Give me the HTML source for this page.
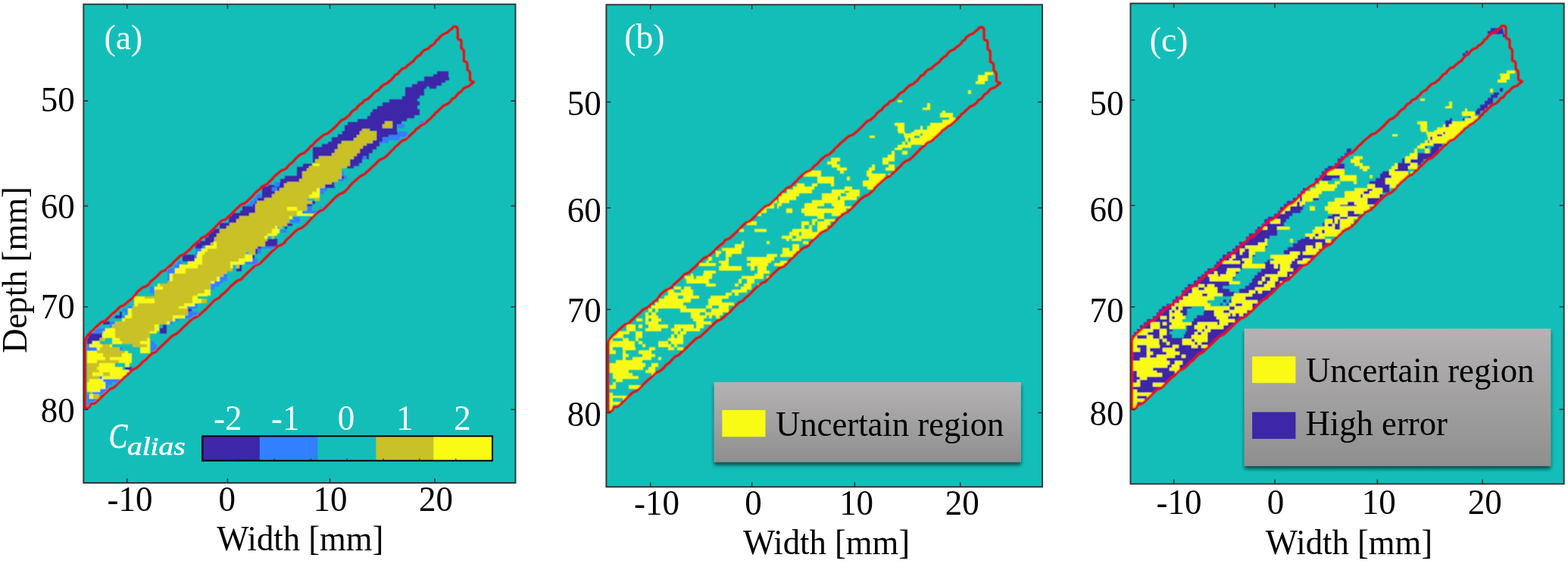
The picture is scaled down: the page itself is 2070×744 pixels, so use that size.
<!DOCTYPE html>
<html lang="en"><head><meta charset="utf-8"><title>Aliasing maps</title>
<style>
html,body{margin:0;padding:0;background:#fff;}
body{width:2070px;height:744px;overflow:hidden;}
svg{display:block;}
text{font-family:"Liberation Serif","DejaVu Serif",serif;}
.tk{font-size:48.3px;fill:#000;}
.ax{font-size:45.7px;fill:#000;}
.wt{font-size:46px;fill:#fff;}
.lg{font-size:45.7px;fill:#000;}
</style></head><body>
<svg width="2070" height="744" viewBox="0 0 2070 744">
<defs>
<linearGradient id="lgd" x1="0" y1="0" x2="0" y2="1"><stop offset="0" stop-color="#b5b2b4"/><stop offset="1" stop-color="#8f8f8f"/></linearGradient>
<filter id="sh" x="-5%" y="-10%" width="112%" height="125%"><feGaussianBlur in="SourceAlpha" stdDeviation="2.6"/><feOffset dx="0" dy="3.5"/><feComponentTransfer><feFuncA type="linear" slope="0.6"/></feComponentTransfer><feMerge><feMergeNode/><feMergeNode in="SourceGraphic"/></feMerge></filter>
<filter id="soft" filterUnits="userSpaceOnUse" x="0" y="0" width="2070" height="744"><feConvolveMatrix order="3" kernelMatrix="1 2 1 2 4 2 1 2 1" divisor="16" edgeMode="none" preserveAlpha="false"/></filter>
</defs>
<rect width="2070" height="744" fill="#fff"/>
<g id="panel-a">
<rect x="110.3" y="5.6" width="570.2" height="631.4" fill="#13beb9"/>
<clipPath id="clip-a"><polygon points="112.4,462.0 112.4,449.0 113.1,446.6 114.5,444.2 118.4,439.3 123.2,435.4 128.1,430.1 131.9,426.8 133.9,425.0 139.7,422.7 142.6,419.7 145.5,416.9 149.3,413.2 154.2,409.3 158.1,404.9 163.9,402.3 166.8,399.9 170.6,396.6 175.5,392.6 178.4,389.6 180.8,385.5 185.7,381.4 188.1,379.3 193.4,377.5 196.8,374.6 199.2,371.2 205.0,366.4 207.9,363.6 212.8,358.6 218.6,356.3 220.5,354.0 226.8,348.7 229.7,345.2 234.1,341.4 237.9,337.4 243.7,335.1 245.7,333.1 251.0,328.7 254.4,324.8 259.2,320.5 263.1,317.8 265.9,313.9 271.7,311.6 273.6,309.5 278.0,305.7 282.8,301.1 286.2,297.5 290.1,293.5 292.5,291.4 298.3,289.2 300.2,287.2 304.6,283.0 308.4,279.4 312.3,275.3 315.7,272.4 317.6,270.3 323.4,268.0 325.9,265.9 329.7,262.1 333.6,258.4 337.0,254.5 342.3,249.8 345.2,247.0 347.0,245.5 352.8,243.0 354.3,240.8 359.6,236.0 361.5,233.3 367.8,228.0 371.2,225.2 377.0,222.9 378.9,221.0 382.3,216.7 385.7,214.5 390.5,208.9 395.4,204.8 397.3,203.3 402.2,201.7 403.6,199.8 408.0,196.0 408.9,194.1 413.8,190.2 416.2,187.3 421.5,182.8 424.4,180.4 427.3,177.9 432.6,176.0 437.5,172.0 444.6,165.5 447.5,162.1 451.4,158.2 456.2,156.2 458.1,154.3 462.0,151.3 463.4,148.5 467.8,144.7 470.7,143.3 471.7,141.1 475.5,137.3 478.4,136.0 479.9,133.6 481.8,132.0 486.2,130.6 488.1,128.0 491.0,126.0 492.0,123.9 495.9,120.7 499.7,118.9 501.2,116.5 506.5,111.6 511.8,109.4 513.3,107.6 517.1,104.9 518.1,102.9 519.6,101.9 521.8,98.7 525.4,97.4 526.6,95.1 530.8,90.8 536.0,89.0 537.5,86.7 542.6,82.9 546.3,80.4 547.6,77.9 552.1,73.7 555.0,72.5 556.3,69.8 560.2,66.0 566.0,63.7 567.4,61.6 571.4,59.2 575.3,55.1 575.7,53.4 579.1,51.6 580.1,49.3 584.4,45.7 591.1,42.6 593.1,40.2 596.8,37.7 597.9,35.6 599.7,35.0 602.8,35.3 604.2,37.5 604.2,50.5 605.5,52.1 608.2,52.4 609.0,54.4 609.0,63.7 611.3,65.0 612.4,67.0 612.4,80.5 615.6,81.8 616.8,83.7 617.1,92.1 619.5,93.9 620.5,96.0 620.5,102.0 620.5,105.9 625.5,108.3 623.1,110.2 621.2,111.7 619.2,113.6 612.9,116.0 611.0,117.9 608.6,120.9 605.2,122.8 603.3,125.3 600.8,128.6 596.5,130.8 595.5,133.0 591.7,136.7 585.4,139.4 582.9,142.0 579.6,144.9 578.1,146.9 574.7,148.8 573.8,151.1 570.4,153.7 569.9,155.1 565.5,158.6 561.7,162.1 561.2,162.5 556.3,165.0 553.4,167.8 549.6,170.1 547.6,173.0 546.7,173.9 542.5,177.6 538.1,181.5 535.7,184.0 530.8,185.7 528.9,187.3 526.0,190.6 521.2,194.2 520.2,195.8 515.8,200.0 513.4,202.6 509.6,206.3 507.1,208.4 501.8,210.5 497.5,214.2 495.5,216.7 492.1,219.6 487.3,224.2 483.4,227.5 481.5,229.7 475.7,232.5 473.8,234.1 468.9,238.4 464.6,242.2 461.2,246.0 459.4,248.5 455.5,252.2 453.1,254.2 447.8,256.5 442.9,260.2 438.1,265.1 434.2,269.1 429.4,273.8 426.5,276.5 420.7,279.1 414.9,284.1 410.5,288.7 405.2,294.8 401.3,298.2 398.4,300.6 392.6,302.9 389.7,305.4 384.4,310.6 381.0,313.8 376.7,317.9 376.0,319.6 372.4,322.7 368.1,324.1 364.7,326.7 361.8,329.1 357.9,332.9 354.0,336.9 349.7,341.1 345.3,345.6 342.4,348.1 337.1,350.1 333.7,353.3 329.8,356.9 325.0,361.6 321.1,365.3 318.7,368.2 313.4,370.2 311.5,371.8 308.1,374.7 303.7,378.5 300.8,381.9 296.0,386.6 291.6,390.0 289.6,392.9 283.8,395.7 280.9,398.5 277.1,402.5 272.2,407.5 268.4,410.8 263.5,415.1 260.6,417.6 254.8,420.0 250.9,423.4 247.1,427.1 242.2,431.7 237.4,436.3 233.5,440.0 227.7,442.9 225.8,444.7 220.9,449.3 216.1,453.9 211.3,458.5 207.4,461.8 206.4,463.5 199.7,466.8 196.8,470.0 192.9,474.3 188.1,477.6 185.1,481.4 180.3,485.3 174.5,488.0 172.1,490.5 168.7,494.0 164.8,497.0 161.0,500.7 157.1,504.4 152.7,508.9 150.3,511.2 144.5,513.5 141.6,516.5 137.3,520.3 132.9,524.8 129.0,528.5 125.2,531.9 119.4,533.1 118.6,536.3 115.5,538.6 113.5,539.1 112.4,537.5 112.4,529.7 112.4,462.0"/></clipPath>
<g filter="url(#soft)">
<g clip-path="url(#clip-a)">
<path fill="#3e26a8" d="M577 94h15v8h-32v-1h12v-3h5v-4zM560 102h33v4h-5v3h-5v4h-7v4h-9v-3h-4v3h-3v9h-6v4h-3v4h3v5h-3v5h3v8h-7v4h-10v4h-7v4h-6v10h-73v-1h4v-8h4v-4h13v-4h13v-4h4v-5h3v-4h6v-4h7v-5h9v-4h17v-4h4v-12h9v-4h7v-4h9v-5z"/>
<path fill="#c9c128" d="M508 160h10v9h-13v-5h3v-4zM478 170h10v3h9v1h-22v-1h3v-3z"/>
<path fill="#3080ff" d="M525 164h9v5h-9v-5zM554 160h7v3h-7v-3zM525 173h12v1h-12v-1z"/>
<path fill="#c9c128" d="M475 174h22v11h-5v4h-8v3h-5v4h-4v6h-4v4h-4v4h-5v9h-4v3h-7v15h-5v3h-8v6h-63v-4h4v-2h16v-4h4v-10h6v-4h3v-3h4v-4h4v-5h5v-4h17v-4h4v-5h4v-7h5v-4h16v-4h4v-4h4v-4z"/>
<path fill="#3e26a8" d="M452 174h23v4h-4v4h-4v4h-16v4h-5v7h-4v5h-4v4h-17v4h-5v5h-3v-21h12v-4h8v-3h5v-6h8v-4h6v-3zM400 216h12v3h-4v3h-3v4h-6v10h-4v4h-16v2h-4v4h-9v-5h4v-5h6v-4h16v-12h8v-4zM354 244h8v2h-8v-2zM497 174h28v4h-12v3h-8v6h-4v6h-4v4h-5v5h-5v8h-9v5h-4v4h-7v3h-9v-3h4v-9h5v-4h4v-4h4v-6h4v-4h5v-3h8v-4h5v-11zM438 240h3v6h-12v-3h9v-3z"/>
<path fill="#3080ff" d="M525 174h13v4h-1v3h-9v4h-15v4h-12v-2h4v-6h8v-3h12v-4zM479 206h5v4h-5zM451 226h3v6h-3z"/>
<path fill="#3e26a8" d="M451 232h3v4h-3z"/>
<path fill="#3080ff" d="M454 232h4v4h-4zM446 236h8v3h-8zM362 240h7v6h-7z"/>
<path fill="#f9fb15" d="M413 216h9v3h-9z"/>
<path fill="#c9c128" d="M375 246h54v2h-7v17h-10v4h-7v9h-6v7h-13v4h-4v5h-3v4h-6v4h-4v6h-3v3h-4v4h-9v3h-70v-5h3v-5h4v-6h9v-4h4v-4h9v-5h4v-4h13v-4h8v-12h2v-4h10v-4h10v-5h4v-4h6v-4h6v-2z"/>
<path fill="#13beb9" d="M405 262h11v3h-11zM366 299h3v3h-3zM353 311h6v4h-6z"/>
<path fill="#f9fb15" d="M418 248h4v13h-14v-4h4v-4h6v-5zM379 273h13v5h-13zM392 278h7v4h16v3h-23v-7zM382 285h4v4h-4zM363 298h3v4h3v6h-3v3h-13v4h-4v-4h4v-3h6v-6h4v-4z"/>
<path fill="#3e26a8" d="M429 246h13v2h-13zM412 265h4v4h-4zM405 269h7v3h-7zM379 295h7v3h-7zM376 299h3v3h-3zM353 315h13v3h-13z"/>
<path fill="#3080ff" d="M422 248h10v4h-4v4h-6v-8zM405 272h7v6h-7zM400 278h18v3h-18zM422 273h4v2h-4zM387 286h9v8h-13v-4h4v-4zM370 303h9v4h-9z"/>
<path fill="#3e26a8" d="M346 246h29v2h-6v4h-6v4h-4v5h-10v4h-10v4h-2v12h-8v4h-13v4h-4v5h-9v4h-4v4h-9v6h-4v5h-3v5h-12v-5h4v-5h3v-6h12v-8h12v-9h4v-4h11v-3h3v-6h6v-3h4v-4h5v-4h3v-5h8v-10z"/>
<path fill="#3080ff" d="M338 256h8v5h-6v4h-3v4h-3v3h-8v-3h4v-4h5v-4h3v-5zM359 247h7v5h-7zM292 293h8v1h-8z"/>
<path fill="#c9c128" d="M282 318h68v7h-10v3h-3v8h-4v9h-10v4h-16v9h-7v3h-5v4h-5v6h-7v3h-5v16h-74v-12h4v-4h13v-3h3v-10h7v-7h6v-5h11v-4h9v-4h3v-5h1v-4h5v-4h5v-4h7v-4h4v-2zM312 349h4v5h-4z"/>
<path fill="#f9fb15" d="M282 319h4v9h-12v4h-4v4h-3v13h-6v5h-16v7h-14v-7h6v-5h11v-4h9v-4h3v-5h1v-4h5v-4h5v-4h11v-5zM224 361h4v10h-4zM208 374h3v4h4v4h-11v-4h4v-4zM323 336h10v9h-10v4h-16v5h-3v-9h11v-4h8v-5zM286 365h4v6h-4zM278 371h5v3h-5zM270 382h8v8h-17v-3h9v-5z"/>
<path fill="#3e26a8" d="M264 318h18v2h-4v4h-11v4h-9v-8h6v-2zM241 336h16v9h-16zM350 318h16v7h-16zM340 325h5v3h-5zM337 328h3v7h-3zM333 336h3v5h-3zM316 349h3v9h-7v-4h4v-5z"/>
<path fill="#3080ff" d="M267 324h3v4h-3zM258 328h8v4h-5v4h-1v5h-3v-5h1v-8zM234 345h7v4h-4v5h-6v7h-7v10h-3v-17h9v-5h4v-4zM198 378h6v9h-6zM346 325h17v3h-17zM340 328h5v7h-5zM333 341h7v4h-7zM324 345h18v4h-18zM295 361h5v10h-6v3h-4v4h-7v4h-5v-8h5v-3h7v-6h5v-4z"/>
<path fill="#13beb9" d="M324 332h5v3h-5zM307 349h5v5h-5z"/>
<path fill="#c9c128" d="M204 390h51v1h-51z"/>
<path fill="#f9fb15" d="M255 390h19v1h-19zM177 391h14v3h-14z"/>
<path fill="#c9c128" d="M191 391h63v3h-63z"/>
<path fill="#f9fb15" d="M254 391h7v3h-7zM177 394h27v6h-27z"/>
<path fill="#c9c128" d="M204 394h50v6h-50z"/>
<path fill="#f9fb15" d="M254 394h12v6h-12z"/>
<path fill="#c9c128" d="M266 394h7v6h-7z"/>
<path fill="#f9fb15" d="M177 400h5v4h-5z"/>
<path fill="#c9c128" d="M182 400h61v4h-61z"/>
<path fill="#f9fb15" d="M243 400h14v4h-14z"/>
<path fill="#3080ff" d="M258 400h3v4h-3zM169 404h5v3h-5z"/>
<path fill="#c9c128" d="M175 404h61v3h-61z"/>
<path fill="#f9fb15" d="M236 404h11v3h-11z"/>
<path fill="#3080ff" d="M248 404h13v3h-13zM162 407h6v4h-6z"/>
<path fill="#f9fb15" d="M169 407h5v4h-5z"/>
<path fill="#c9c128" d="M174 407h74v4h-74z"/>
<path fill="#3e26a8" d="M248 407h5v4h-5zM158 411h3v5h-3z"/>
<path fill="#3080ff" d="M165 411h3v5h-3z"/>
<path fill="#f9fb15" d="M169 411h5v5h-5z"/>
<path fill="#c9c128" d="M174 411h74v5h-74z"/>
<path fill="#3080ff" d="M248 411h13v5h-13zM149 416h3v4h-3z"/>
<path fill="#3e26a8" d="M152 416h9v4h-9z"/>
<path fill="#3080ff" d="M161 416h3v4h-3z"/>
<path fill="#f9fb15" d="M165 416h9v4h-9z"/>
<path fill="#c9c128" d="M174 416h54v4h-54z"/>
<path fill="#f9fb15" d="M228 416h16v4h-16z"/>
<path fill="#3080ff" d="M244 416h11v4h-11z"/>
<path fill="#f9fb15" d="M161 420h4v4h-4z"/>
<path fill="#c9c128" d="M165 420h63v4h-63z"/>
<path fill="#f9fb15" d="M228 420h3v4h-3z"/>
<path fill="#3080ff" d="M232 420h4v4h-4z"/>
<path fill="#3e26a8" d="M136 424h9v4h-9z"/>
<path fill="#3080ff" d="M145 424h7v4h-7z"/>
<path fill="#c9c128" d="M152 424h68v4h-68z"/>
<path fill="#f9fb15" d="M220 424h4v4h-4z"/>
<path fill="#3080ff" d="M224 424h4v4h-4zM145 428h3v5h-3z"/>
<path fill="#c9c128" d="M148 428h56v5h-56z"/>
<path fill="#f9fb15" d="M204 428h6v5h-6z"/>
<path fill="#3e26a8" d="M215 428h5v5h-5z"/>
<path fill="#3080ff" d="M126 433h13v4h-13z"/>
<path fill="#f9fb15" d="M139 433h13v4h-13z"/>
<path fill="#c9c128" d="M152 433h52v4h-52z"/>
<path fill="#f9fb15" d="M204 433h6v4h-6z"/>
<path fill="#3e26a8" d="M211 433h9v4h-9z"/>
<path fill="#3080ff" d="M122 437h13v3h-13z"/>
<path fill="#f9fb15" d="M136 437h16v3h-16z"/>
<path fill="#c9c128" d="M152 437h46v3h-46z"/>
<path fill="#f9fb15" d="M198 437h9v3h-9z"/>
<path fill="#3e26a8" d="M211 437h9v3h-9zM117 440h18v6h-18z"/>
<path fill="#f9fb15" d="M135 440h17v6h-17z"/>
<path fill="#c9c128" d="M152 440h46v6h-46z"/>
<path fill="#3e26a8" d="M115 446h16v4h-16z"/>
<path fill="#c9c128" d="M132 446h7v4h-7z"/>
<path fill="#f9fb15" d="M148 446h10v4h-10z"/>
<path fill="#c9c128" d="M158 446h36v4h-36z"/>
<path fill="#f9fb15" d="M194 446h4v4h-4z"/>
<path fill="#3e26a8" d="M115 450h7v4h-7z"/>
<path fill="#f9fb15" d="M122 450h10v4h-10zM148 450h13v4h-13z"/>
<path fill="#c9c128" d="M161 450h24v4h-24z"/>
<path fill="#f9fb15" d="M185 450h13v4h-13z"/>
<path fill="#3080ff" d="M199 450h5v4h-5zM115 454h3v4h-3z"/>
<path fill="#f9fb15" d="M118 454h17v4h-17z"/>
<path fill="#c9c128" d="M135 454h10v4h-10z"/>
<path fill="#f9fb15" d="M145 454h3v4h-3z"/>
<path fill="#c9c128" d="M175 454h19v4h-19z"/>
<path fill="#f9fb15" d="M194 454h4v4h-4z"/>
<path fill="#3080ff" d="M199 454h8v4h-8zM115 458h13v4h-13z"/>
<path fill="#f9fb15" d="M128 458h4v4h-4z"/>
<path fill="#c9c128" d="M132 458h26v4h-26z"/>
<path fill="#3080ff" d="M158 458h3v4h-3z"/>
<path fill="#f9fb15" d="M185 458h13v4h-13z"/>
<path fill="#3080ff" d="M199 458h8v4h-8zM115 462h13v1h-13z"/>
<path fill="#c9c128" d="M129 462h29v1h-29z"/>
<path fill="#3080ff" d="M158 462h3v1h-3z"/>
<path fill="#f9fb15" d="M185 462h13v1h-13z"/>
<path fill="#3080ff" d="M199 462h6v1h-6z"/>
<path fill="#f9fb15" d="M115 463h13v3h-13z"/>
<path fill="#c9c128" d="M128 463h37v3h-37z"/>
<path fill="#f9fb15" d="M165 463h4v3h-4zM185 463h13v3h-13zM115 466h21v5h-21z"/>
<path fill="#c9c128" d="M136 466h25v5h-25z"/>
<path fill="#f9fb15" d="M161 466h13v5h-13zM115 471h24v4h-24z"/>
<path fill="#c9c128" d="M139 471h6v4h-6z"/>
<path fill="#f9fb15" d="M145 471h29v4h-29zM115 475h13v4h-13z"/>
<path fill="#c9c128" d="M128 475h29v4h-29z"/>
<path fill="#f9fb15" d="M157 475h17v4h-17z"/>
<path fill="#c9c128" d="M115 479h16v5h-16z"/>
<path fill="#f9fb15" d="M131 479h21v5h-21zM165 479h6v5h-6z"/>
<path fill="#c9c128" d="M115 484h13v4h-13z"/>
<path fill="#f9fb15" d="M128 484h34v4h-34z"/>
<path fill="#3e26a8" d="M165 484h9v4h-9z"/>
<path fill="#c9c128" d="M115 488h16v3h-16z"/>
<path fill="#f9fb15" d="M131 488h39v3h-39z"/>
<path fill="#3080ff" d="M170 488h2v3h-2z"/>
<path fill="#c9c128" d="M115 491h7v5h-7z"/>
<path fill="#f9fb15" d="M122 491h14v5h-14z"/>
<path fill="#c9c128" d="M136 491h9v5h-9z"/>
<path fill="#f9fb15" d="M145 491h22v5h-22z"/>
<path fill="#c9c128" d="M115 496h16v4h-16z"/>
<path fill="#3080ff" d="M131 496h4v4h-4z"/>
<path fill="#f9fb15" d="M135 496h27v4h-27z"/>
<path fill="#c9c128" d="M115 500h3v4h-3z"/>
<path fill="#f9fb15" d="M118 500h18v4h-18z"/>
<path fill="#3080ff" d="M136 500h23v4h-23z"/>
<path fill="#f9fb15" d="M115 504h24v4h-24z"/>
<path fill="#3080ff" d="M139 504h9v4h-9zM152 504h3v4h-3z"/>
<path fill="#f9fb15" d="M115 508h24v5h-24z"/>
<path fill="#3080ff" d="M139 508h4v5h-4z"/>
<path fill="#f9fb15" d="M115 513h17v4h-17z"/>
<path fill="#3080ff" d="M132 513h9v4h-9z"/>
<path fill="#c9c128" d="M119 517h3v3h-3z"/>
<path fill="#3080ff" d="M122 517h16v3h-16zM115 520h3v6h-3z"/>
<path fill="#f9fb15" d="M118 520h5v6h-5z"/>
<path fill="#c9c128" d="M123 520h8v6h-8z"/>
<path fill="#3080ff" d="M115 526h12v4h-12zM115 530h3v4h-3zM115 534h2v3h-2z"/>
</g>
<polygon fill="none" stroke="#ff0000" stroke-width="3.1" stroke-linejoin="round" points="112.4,462.0 112.4,449.0 113.1,446.6 114.5,444.2 118.4,439.3 123.2,435.4 128.1,430.1 131.9,426.8 133.9,425.0 139.7,422.7 142.6,419.7 145.5,416.9 149.3,413.2 154.2,409.3 158.1,404.9 163.9,402.3 166.8,399.9 170.6,396.6 175.5,392.6 178.4,389.6 180.8,385.5 185.7,381.4 188.1,379.3 193.4,377.5 196.8,374.6 199.2,371.2 205.0,366.4 207.9,363.6 212.8,358.6 218.6,356.3 220.5,354.0 226.8,348.7 229.7,345.2 234.1,341.4 237.9,337.4 243.7,335.1 245.7,333.1 251.0,328.7 254.4,324.8 259.2,320.5 263.1,317.8 265.9,313.9 271.7,311.6 273.6,309.5 278.0,305.7 282.8,301.1 286.2,297.5 290.1,293.5 292.5,291.4 298.3,289.2 300.2,287.2 304.6,283.0 308.4,279.4 312.3,275.3 315.7,272.4 317.6,270.3 323.4,268.0 325.9,265.9 329.7,262.1 333.6,258.4 337.0,254.5 342.3,249.8 345.2,247.0 347.0,245.5 352.8,243.0 354.3,240.8 359.6,236.0 361.5,233.3 367.8,228.0 371.2,225.2 377.0,222.9 378.9,221.0 382.3,216.7 385.7,214.5 390.5,208.9 395.4,204.8 397.3,203.3 402.2,201.7 403.6,199.8 408.0,196.0 408.9,194.1 413.8,190.2 416.2,187.3 421.5,182.8 424.4,180.4 427.3,177.9 432.6,176.0 437.5,172.0 444.6,165.5 447.5,162.1 451.4,158.2 456.2,156.2 458.1,154.3 462.0,151.3 463.4,148.5 467.8,144.7 470.7,143.3 471.7,141.1 475.5,137.3 478.4,136.0 479.9,133.6 481.8,132.0 486.2,130.6 488.1,128.0 491.0,126.0 492.0,123.9 495.9,120.7 499.7,118.9 501.2,116.5 506.5,111.6 511.8,109.4 513.3,107.6 517.1,104.9 518.1,102.9 519.6,101.9 521.8,98.7 525.4,97.4 526.6,95.1 530.8,90.8 536.0,89.0 537.5,86.7 542.6,82.9 546.3,80.4 547.6,77.9 552.1,73.7 555.0,72.5 556.3,69.8 560.2,66.0 566.0,63.7 567.4,61.6 571.4,59.2 575.3,55.1 575.7,53.4 579.1,51.6 580.1,49.3 584.4,45.7 591.1,42.6 593.1,40.2 596.8,37.7 597.9,35.6 599.7,35.0 602.8,35.3 604.2,37.5 604.2,50.5 605.5,52.1 608.2,52.4 609.0,54.4 609.0,63.7 611.3,65.0 612.4,67.0 612.4,80.5 615.6,81.8 616.8,83.7 617.1,92.1 619.5,93.9 620.5,96.0 620.5,102.0 620.5,105.9 625.5,108.3 623.1,110.2 621.2,111.7 619.2,113.6 612.9,116.0 611.0,117.9 608.6,120.9 605.2,122.8 603.3,125.3 600.8,128.6 596.5,130.8 595.5,133.0 591.7,136.7 585.4,139.4 582.9,142.0 579.6,144.9 578.1,146.9 574.7,148.8 573.8,151.1 570.4,153.7 569.9,155.1 565.5,158.6 561.7,162.1 561.2,162.5 556.3,165.0 553.4,167.8 549.6,170.1 547.6,173.0 546.7,173.9 542.5,177.6 538.1,181.5 535.7,184.0 530.8,185.7 528.9,187.3 526.0,190.6 521.2,194.2 520.2,195.8 515.8,200.0 513.4,202.6 509.6,206.3 507.1,208.4 501.8,210.5 497.5,214.2 495.5,216.7 492.1,219.6 487.3,224.2 483.4,227.5 481.5,229.7 475.7,232.5 473.8,234.1 468.9,238.4 464.6,242.2 461.2,246.0 459.4,248.5 455.5,252.2 453.1,254.2 447.8,256.5 442.9,260.2 438.1,265.1 434.2,269.1 429.4,273.8 426.5,276.5 420.7,279.1 414.9,284.1 410.5,288.7 405.2,294.8 401.3,298.2 398.4,300.6 392.6,302.9 389.7,305.4 384.4,310.6 381.0,313.8 376.7,317.9 376.0,319.6 372.4,322.7 368.1,324.1 364.7,326.7 361.8,329.1 357.9,332.9 354.0,336.9 349.7,341.1 345.3,345.6 342.4,348.1 337.1,350.1 333.7,353.3 329.8,356.9 325.0,361.6 321.1,365.3 318.7,368.2 313.4,370.2 311.5,371.8 308.1,374.7 303.7,378.5 300.8,381.9 296.0,386.6 291.6,390.0 289.6,392.9 283.8,395.7 280.9,398.5 277.1,402.5 272.2,407.5 268.4,410.8 263.5,415.1 260.6,417.6 254.8,420.0 250.9,423.4 247.1,427.1 242.2,431.7 237.4,436.3 233.5,440.0 227.7,442.9 225.8,444.7 220.9,449.3 216.1,453.9 211.3,458.5 207.4,461.8 206.4,463.5 199.7,466.8 196.8,470.0 192.9,474.3 188.1,477.6 185.1,481.4 180.3,485.3 174.5,488.0 172.1,490.5 168.7,494.0 164.8,497.0 161.0,500.7 157.1,504.4 152.7,508.9 150.3,511.2 144.5,513.5 141.6,516.5 137.3,520.3 132.9,524.8 129.0,528.5 125.2,531.9 119.4,533.1 118.6,536.3 115.5,538.6 113.5,539.1 112.4,537.5 112.4,529.7 112.4,462.0"/>
</g>
<path d="M167.7 637.0v-6M167.7 5.6v6M300.4 637.0v-6M300.4 5.6v6M435.5 637.0v-6M435.5 5.6v6M573.9 637.0v-6M573.9 5.6v6M110.3 133.1h6M680.5 133.1h-6M110.3 271.6h6M680.5 271.6h-6M110.3 404.8h6M680.5 404.8h-6M110.3 540.3h6M680.5 540.3h-6" stroke="#333333" stroke-width="1.6" fill="none"/>
<rect x="110.3" y="5.6" width="570.2" height="631.4" fill="none" stroke="#333333" stroke-width="1.9"/>
</g>
<g id="panel-b">
<rect x="800.4" y="6.2" width="575.6" height="636.1" fill="#13beb9"/>
<clipPath id="clip-b"><polygon points="802.5,466.0 802.5,452.9 803.2,450.5 804.7,448.0 808.6,443.2 813.4,439.2 818.3,433.9 822.2,430.5 824.2,428.7 830.0,426.4 833.0,423.4 835.9,420.6 839.8,416.9 844.7,412.9 848.6,408.5 854.5,405.9 857.4,403.4 861.3,400.2 866.2,396.0 869.1,393.1 871.6,388.9 876.5,384.8 878.9,382.7 884.3,380.8 887.7,377.9 890.2,374.6 896.0,369.7 899.0,366.9 903.8,361.8 909.7,359.5 911.7,357.2 918.0,351.8 920.9,348.4 925.3,344.5 929.2,340.5 935.1,338.1 937.0,336.1 942.4,331.7 945.8,327.8 950.7,323.5 954.6,320.8 957.4,316.7 963.3,314.4 965.3,312.4 969.7,308.5 974.5,303.9 978.0,300.3 981.9,296.2 984.3,294.2 990.2,291.9 992.1,289.9 996.5,285.7 1000.4,282.0 1004.3,277.9 1007.7,275.0 1009.7,272.8 1015.6,270.5 1018.0,268.5 1021.9,264.6 1025.8,260.9 1029.2,257.0 1034.6,252.2 1037.5,249.4 1039.3,247.9 1045.2,245.4 1046.7,243.1 1052.0,238.3 1054.0,235.6 1060.3,230.3 1063.8,227.4 1069.6,225.1 1071.6,223.2 1075.0,218.9 1078.4,216.7 1083.3,211.0 1088.2,206.9 1090.1,205.4 1095.0,203.8 1096.5,201.9 1100.9,198.0 1101.9,196.1 1106.7,192.1 1109.2,189.2 1114.6,184.7 1117.5,182.3 1120.4,179.8 1125.8,177.9 1130.7,173.8 1137.8,167.3 1140.8,163.8 1144.7,160.0 1149.6,157.9 1151.5,156.0 1155.4,153.0 1156.9,150.2 1161.3,146.4 1164.2,145.0 1165.2,142.7 1169.1,138.9 1172.0,137.5 1173.5,135.2 1175.4,133.5 1179.8,132.1 1181.8,129.5 1184.7,127.5 1185.7,125.3 1189.6,122.2 1193.5,120.4 1195.0,118.0 1200.4,113.0 1205.7,110.7 1207.2,109.0 1211.1,106.2 1212.1,104.2 1213.5,103.2 1215.8,99.9 1219.4,98.7 1220.7,96.3 1224.9,92.0 1230.1,90.2 1231.7,87.9 1236.8,84.1 1240.5,81.5 1241.8,79.0 1246.3,74.8 1249.3,73.6 1250.6,70.9 1254.5,67.1 1260.4,64.8 1261.9,62.6 1265.9,60.2 1269.8,56.1 1270.2,54.4 1273.7,52.6 1274.7,50.2 1279.0,46.6 1285.8,43.4 1287.8,41.1 1291.5,38.6 1292.6,36.4 1294.4,35.9 1297.5,36.1 1299.0,38.4 1299.0,51.4 1300.3,53.0 1303.0,53.4 1303.9,55.3 1303.9,64.7 1306.1,66.1 1307.3,68.0 1307.3,81.7 1310.5,82.9 1311.7,84.9 1312.0,93.4 1314.4,95.1 1315.4,97.3 1315.4,103.3 1315.4,107.2 1320.5,109.7 1318.1,111.6 1316.1,113.1 1314.1,115.0 1307.8,117.4 1305.8,119.4 1303.4,122.4 1300.0,124.3 1298.0,126.8 1295.6,130.1 1291.2,132.3 1290.2,134.6 1286.3,138.2 1280.0,141.0 1277.5,143.6 1274.1,146.5 1272.6,148.6 1269.2,150.5 1268.2,152.8 1264.8,155.4 1264.3,156.8 1259.9,160.4 1256.0,163.9 1255.5,164.3 1250.7,166.8 1247.7,169.6 1243.8,172.0 1241.9,174.8 1240.9,175.7 1236.6,179.5 1232.2,183.4 1229.8,185.9 1224.9,187.6 1223.0,189.2 1220.0,192.6 1215.2,196.2 1214.2,197.9 1209.8,202.0 1207.3,204.7 1203.4,208.4 1201.0,210.5 1195.6,212.6 1191.2,216.3 1189.3,218.8 1185.9,221.8 1181.0,226.4 1177.1,229.8 1175.1,232.0 1169.2,234.7 1167.3,236.4 1162.4,240.7 1158.0,244.5 1154.6,248.4 1152.8,250.9 1148.9,254.6 1146.4,256.7 1141.1,259.0 1136.2,262.7 1131.3,267.6 1127.4,271.7 1122.5,276.4 1119.6,279.1 1113.7,281.8 1107.9,286.7 1103.5,291.4 1098.1,297.6 1094.2,300.9 1091.3,303.4 1085.4,305.8 1082.5,308.2 1077.1,313.5 1073.7,316.7 1069.3,320.9 1068.6,322.6 1065.0,325.6 1060.6,327.0 1057.2,329.6 1054.3,332.1 1050.4,335.9 1046.4,340.0 1042.0,344.2 1037.7,348.7 1034.7,351.3 1029.4,353.2 1025.9,356.4 1022.0,360.2 1017.1,364.8 1013.2,368.5 1010.8,371.5 1005.4,373.5 1003.5,375.1 1000.0,378.0 995.7,381.9 992.7,385.3 987.8,390.0 983.4,393.4 981.4,396.4 975.6,399.2 972.7,402.0 968.7,406.0 963.9,411.0 960.0,414.4 955.1,418.7 952.1,421.2 946.3,423.7 942.4,427.1 938.5,430.8 933.6,435.5 928.7,440.1 924.8,443.8 918.9,446.7 917.0,448.5 912.1,453.2 907.2,457.8 902.3,462.5 898.4,465.8 897.4,467.5 890.6,470.9 887.7,474.0 883.8,478.4 878.9,481.7 876.0,485.5 871.1,489.5 865.2,492.2 862.8,494.7 859.4,498.3 855.4,501.3 851.5,505.0 847.6,508.7 843.2,513.3 840.8,515.5 834.9,517.9 832.0,520.9 827.6,524.8 823.2,529.3 819.3,533.0 815.4,536.4 809.5,537.6 808.8,540.9 805.6,543.2 803.7,543.7 802.5,542.0 802.5,534.2 802.5,466.0"/></clipPath>
<g filter="url(#soft)">
<g>
<path fill="#f9fb15" d="M1300 95h11v4h-11zM1291 99h13v8h-13zM1288 107h12v4h-12zM1278 119h4v5h-4zM1185 132h6v3h-6zM1224 136h4v6h-4zM1218 142h10v3h-10zM1244 146h4v3h-4zM1241 149h17v6h-17zM1253 155h8v3h-8zM1244 158h16v3h-16zM1244 161h15v1h-15zM1228 162h29v2h-29zM1228 164h28v1h-28zM1181 162h13v4h-13zM1228 165h26v1h-26zM1224 166h27v1h-27zM1224 167h26v1h-26zM1224 168h25v1h-25zM1224 169h24v1h-24zM1215 166h3v5h-3zM1224 170h22v1h-22zM1207 171h37v2h-37zM1185 166h9v8h-9zM1207 173h36v1h-36zM1186 174h9v2h-9zM1203 174h36v2h-36zM1218 176h21v2h-21zM1193 176h22v3h-22zM1218 178h20v1h-20zM1214 179h22v2h-22zM1148 179h7v3h-7zM1194 179h13v3h-13zM1214 181h21v1h-21zM1202 182h30v2h-30zM1202 184h29v1h-29zM1202 185h28v1h-28zM1195 182h4v5h-4zM1202 186h26v1h-26zM1198 187h24v4h-24zM1191 187h4v4h-4zM1185 191h18v4h-18zM1181 195h10v3h-10zM1191 199h7v5h-7zM1177 199h4v5h-4zM1172 204h9v4h-9zM1097 208h12v5h-12zM1165 208h16v5h-16zM1092 213h13v4h-13zM1165 213h8v4h-8zM1151 217h4v4h-4zM1098 217h11v4h-11zM1173 217h8v4h-8zM1169 221h12v4h-12zM1105 221h13v4h-13zM1147 221h8v4h-8zM1068 225h16v1h-16zM1144 225h7v4h-7zM1109 225h5v4h-5zM1066 226h18v3h-18zM1173 229h3v3h-3zM1144 229h25v4h-25zM1061 229h23v4h-23zM1173 232h1v1h-1zM1147 233h20v4h-20zM1118 233h4v5h-4zM1147 237h19v1h-19zM1139 238h25v2h-25zM1139 240h24v1h-24zM1079 233h22v9h-22zM1139 241h23v1h-23zM1139 242h19v3h-19zM1052 242h10v4h-10zM1072 242h7v4h-7zM1097 242h4v4h-4zM1139 245h18v1h-18zM1145 246h8v4h-8zM1047 246h28v4h-28zM1115 246h10v4h-10zM1098 250h37v2h-37zM1121 252h14v2h-14zM1098 252h17v2h-17zM1039 250h33v5h-33zM1098 254h37v1h-37zM1117 255h18v4h-18zM1032 255h23v4h-23zM1085 255h25v4h-25zM1028 259h23v5h-23zM1109 259h22v5h-22zM1085 259h21v5h-21zM1022 264h4v1h-4zM1028 264h14v4h-14zM1072 264h43v4h-43zM1021 265h5v3h-5zM1018 268h4v1h-4zM1017 269h5v1h-5zM1026 268h6v4h-6zM1062 268h26v4h-26zM1098 268h17v4h-17zM1016 270h6v2h-6zM1011 272h11v3h-11zM1101 272h23v3h-23zM1026 272h2v3h-2zM1062 272h17v3h-17zM1007 275h5v1h-5zM1006 276h6v1h-6zM1038 275h8v6h-8zM1058 275h59v6h-59zM1005 277h7v4h-7zM1001 281h4v1h-4zM1062 281h26v4h-26zM1098 281h12v4h-12zM1000 282h5v3h-5zM1079 285h9v4h-9zM1088 289h14v3h-14zM1072 289h7v3h-7zM988 292h11v1h-11zM1072 292h4v5h-4zM1058 292h10v5h-10zM1079 292h17v5h-17zM986 293h13v4h-13zM1058 297h4v5h-4zM1079 297h13v5h-13zM1068 297h4v5h-4zM1079 302h9v3h-9zM996 302h16v4h-16zM1046 302h26v4h-26zM976 302h6v4h-6zM1079 305h7v1h-7zM1058 306h23v4h-23zM1042 306h13v5h-13zM1058 310h22v1h-22zM1051 311h26v3h-26zM1032 311h14v4h-14zM1051 314h25v1h-25zM1038 315h4v3h-4zM1045 315h13v3h-13zM1012 318h4v4h-4zM1060 318h7v4h-7zM979 318h3v4h-3zM970 322h12v5h-12zM1046 322h9v9h-9zM1033 327h9v4h-9zM953 327h26v4h-26zM945 331h7v4h-7zM958 331h21v4h-21zM1033 331h18v4h-18zM958 335h8v4h-8zM1030 335h17v4h-17zM945 335h4v4h-4zM1012 335h14v4h-14zM935 339h5v5h-5zM958 339h4v5h-4zM986 339h36v5h-36zM949 344h13v3h-13zM932 344h4v3h-4zM991 344h27v3h-27zM1030 344h9v3h-9zM1022 347h13v4h-13zM986 347h28v4h-28zM952 347h10v4h-10zM923 347h22v4h-22zM1000 351h12v6h-12zM949 351h30v6h-30zM991 351h5v6h-5zM1000 357h16v4h-16zM929 357h16v4h-16zM912 361h3v3h-3zM928 361h12v3h-12zM996 361h12v3h-12zM1012 364h4v3h-4zM979 364h29v4h-29zM919 364h21v4h-21zM904 364h12v4h-12zM1012 367h2v1h-2zM975 368h4v6h-4zM986 368h10v6h-10zM906 368h30v6h-30zM1000 374h2v3h-2zM982 374h10v4h-10zM970 374h5v4h-5zM932 374h13v4h-13zM1000 377h1v1h-1zM978 378h14v4h-14zM903 378h9v4h-9zM890 378h9v4h-9zM899 382h16v4h-16zM882 382h8v4h-8zM966 382h20v4h-20zM882 386h33v4h-33zM958 386h8v4h-8zM970 386h5v4h-5zM877 390h18v4h-18zM902 390h21v4h-21zM938 390h24v4h-24zM870 394h42v5h-42zM935 394h18v5h-18zM935 399h34v4h-34zM865 399h37v4h-37zM932 403h8v4h-8zM949 403h13v4h-13zM860 403h46v4h-46zM865 407h4v5h-4zM856 407h5v5h-5zM898 407h34v5h-34zM939 407h23v5h-23zM931 412h23v4h-23zM860 412h6v4h-6zM912 412h12v4h-12zM852 412h4v4h-4zM852 416h17v4h-17zM912 416h21v4h-21zM945 416h5v4h-5zM936 416h4v4h-4zM915 420h14v4h-14zM840 420h8v4h-8zM860 420h13v4h-13zM852 420h4v4h-4zM852 424h17v4h-17zM919 424h20v4h-20zM919 428h10v5h-10zM843 428h5v5h-5zM890 428h26v5h-26zM856 428h26v5h-26zM827 428h12v9h-12zM902 433h22v4h-22zM886 433h13v4h-13zM852 433h21v4h-21zM815 437h16v1h-16zM898 437h8v4h-8zM890 437h5v4h-5zM814 438h17v3h-17zM810 441h13v1h-13zM839 437h9v9h-9zM894 441h8v5h-8zM886 441h4v5h-4zM809 442h14v4h-14zM806 446h3v1h-3zM822 446h8v4h-8zM839 446h4v4h-4zM882 446h20v4h-20zM805 447h4v3h-4zM843 450h5v4h-5zM886 450h16v4h-16zM869 450h13v4h-13zM805 450h33v8h-33zM890 454h4v4h-4zM869 454h17v4h-17zM848 454h4v4h-4zM822 458h17v4h-17zM857 458h8v4h-8zM805 458h4v4h-4zM894 458h8v4h-8zM882 458h8v4h-8zM843 462h17v5h-17zM822 462h4v5h-4zM805 462h8v5h-8zM848 467h17v4h-17zM822 467h8v4h-8zM869 471h4v4h-4zM835 471h25v4h-25zM822 471h4v4h-4zM813 475h35v4h-35zM860 479h9v5h-9zM805 479h47v5h-47zM805 484h44v4h-44zM856 484h9v4h-9zM852 488h13v4h-13zM805 488h25v4h-25zM860 492h4v2h-4zM860 494h3v1h-3zM809 492h26v4h-26zM860 495h2v1h-2zM809 496h34v4h-34zM813 500h9v4h-9zM809 504h4v4h-4zM830 508h17v2h-17zM830 510h16v1h-16zM830 511h15v1h-15zM805 508h8v5h-8zM830 512h14v1h-14zM805 518h4v4h-4zM805 522h24v2h-24zM805 524h23v1h-23zM822 525h3v3h-3zM822 528h2v1h-2zM805 525h4v5h-4zM822 529h1v1h-1zM805 530h14v4h-14zM805 534h4v7h-4z"/>
</g>
<polygon fill="none" stroke="#ff0000" stroke-width="3.1" stroke-linejoin="round" points="802.5,466.0 802.5,452.9 803.2,450.5 804.7,448.0 808.6,443.2 813.4,439.2 818.3,433.9 822.2,430.5 824.2,428.7 830.0,426.4 833.0,423.4 835.9,420.6 839.8,416.9 844.7,412.9 848.6,408.5 854.5,405.9 857.4,403.4 861.3,400.2 866.2,396.0 869.1,393.1 871.6,388.9 876.5,384.8 878.9,382.7 884.3,380.8 887.7,377.9 890.2,374.6 896.0,369.7 899.0,366.9 903.8,361.8 909.7,359.5 911.7,357.2 918.0,351.8 920.9,348.4 925.3,344.5 929.2,340.5 935.1,338.1 937.0,336.1 942.4,331.7 945.8,327.8 950.7,323.5 954.6,320.8 957.4,316.7 963.3,314.4 965.3,312.4 969.7,308.5 974.5,303.9 978.0,300.3 981.9,296.2 984.3,294.2 990.2,291.9 992.1,289.9 996.5,285.7 1000.4,282.0 1004.3,277.9 1007.7,275.0 1009.7,272.8 1015.6,270.5 1018.0,268.5 1021.9,264.6 1025.8,260.9 1029.2,257.0 1034.6,252.2 1037.5,249.4 1039.3,247.9 1045.2,245.4 1046.7,243.1 1052.0,238.3 1054.0,235.6 1060.3,230.3 1063.8,227.4 1069.6,225.1 1071.6,223.2 1075.0,218.9 1078.4,216.7 1083.3,211.0 1088.2,206.9 1090.1,205.4 1095.0,203.8 1096.5,201.9 1100.9,198.0 1101.9,196.1 1106.7,192.1 1109.2,189.2 1114.6,184.7 1117.5,182.3 1120.4,179.8 1125.8,177.9 1130.7,173.8 1137.8,167.3 1140.8,163.8 1144.7,160.0 1149.6,157.9 1151.5,156.0 1155.4,153.0 1156.9,150.2 1161.3,146.4 1164.2,145.0 1165.2,142.7 1169.1,138.9 1172.0,137.5 1173.5,135.2 1175.4,133.5 1179.8,132.1 1181.8,129.5 1184.7,127.5 1185.7,125.3 1189.6,122.2 1193.5,120.4 1195.0,118.0 1200.4,113.0 1205.7,110.7 1207.2,109.0 1211.1,106.2 1212.1,104.2 1213.5,103.2 1215.8,99.9 1219.4,98.7 1220.7,96.3 1224.9,92.0 1230.1,90.2 1231.7,87.9 1236.8,84.1 1240.5,81.5 1241.8,79.0 1246.3,74.8 1249.3,73.6 1250.6,70.9 1254.5,67.1 1260.4,64.8 1261.9,62.6 1265.9,60.2 1269.8,56.1 1270.2,54.4 1273.7,52.6 1274.7,50.2 1279.0,46.6 1285.8,43.4 1287.8,41.1 1291.5,38.6 1292.6,36.4 1294.4,35.9 1297.5,36.1 1299.0,38.4 1299.0,51.4 1300.3,53.0 1303.0,53.4 1303.9,55.3 1303.9,64.7 1306.1,66.1 1307.3,68.0 1307.3,81.7 1310.5,82.9 1311.7,84.9 1312.0,93.4 1314.4,95.1 1315.4,97.3 1315.4,103.3 1315.4,107.2 1320.5,109.7 1318.1,111.6 1316.1,113.1 1314.1,115.0 1307.8,117.4 1305.8,119.4 1303.4,122.4 1300.0,124.3 1298.0,126.8 1295.6,130.1 1291.2,132.3 1290.2,134.6 1286.3,138.2 1280.0,141.0 1277.5,143.6 1274.1,146.5 1272.6,148.6 1269.2,150.5 1268.2,152.8 1264.8,155.4 1264.3,156.8 1259.9,160.4 1256.0,163.9 1255.5,164.3 1250.7,166.8 1247.7,169.6 1243.8,172.0 1241.9,174.8 1240.9,175.7 1236.6,179.5 1232.2,183.4 1229.8,185.9 1224.9,187.6 1223.0,189.2 1220.0,192.6 1215.2,196.2 1214.2,197.9 1209.8,202.0 1207.3,204.7 1203.4,208.4 1201.0,210.5 1195.6,212.6 1191.2,216.3 1189.3,218.8 1185.9,221.8 1181.0,226.4 1177.1,229.8 1175.1,232.0 1169.2,234.7 1167.3,236.4 1162.4,240.7 1158.0,244.5 1154.6,248.4 1152.8,250.9 1148.9,254.6 1146.4,256.7 1141.1,259.0 1136.2,262.7 1131.3,267.6 1127.4,271.7 1122.5,276.4 1119.6,279.1 1113.7,281.8 1107.9,286.7 1103.5,291.4 1098.1,297.6 1094.2,300.9 1091.3,303.4 1085.4,305.8 1082.5,308.2 1077.1,313.5 1073.7,316.7 1069.3,320.9 1068.6,322.6 1065.0,325.6 1060.6,327.0 1057.2,329.6 1054.3,332.1 1050.4,335.9 1046.4,340.0 1042.0,344.2 1037.7,348.7 1034.7,351.3 1029.4,353.2 1025.9,356.4 1022.0,360.2 1017.1,364.8 1013.2,368.5 1010.8,371.5 1005.4,373.5 1003.5,375.1 1000.0,378.0 995.7,381.9 992.7,385.3 987.8,390.0 983.4,393.4 981.4,396.4 975.6,399.2 972.7,402.0 968.7,406.0 963.9,411.0 960.0,414.4 955.1,418.7 952.1,421.2 946.3,423.7 942.4,427.1 938.5,430.8 933.6,435.5 928.7,440.1 924.8,443.8 918.9,446.7 917.0,448.5 912.1,453.2 907.2,457.8 902.3,462.5 898.4,465.8 897.4,467.5 890.6,470.9 887.7,474.0 883.8,478.4 878.9,481.7 876.0,485.5 871.1,489.5 865.2,492.2 862.8,494.7 859.4,498.3 855.4,501.3 851.5,505.0 847.6,508.7 843.2,513.3 840.8,515.5 834.9,517.9 832.0,520.9 827.6,524.8 823.2,529.3 819.3,533.0 815.4,536.4 809.5,537.6 808.8,540.9 805.6,543.2 803.7,543.7 802.5,542.0 802.5,534.2 802.5,466.0"/>
</g>
<path d="M858.7 642.3v-6M858.7 6.2v6M992.6 642.3v-6M992.6 6.2v6M1128.3 642.3v-6M1128.3 6.2v6M1267.8 642.3v-6M1267.8 6.2v6M800.4 134.5h6M1376.0 134.5h-6M800.4 274.2h6M1376.0 274.2h-6M800.4 408.2h6M1376.0 408.2h-6M800.4 544.5h6M1376.0 544.5h-6" stroke="#333333" stroke-width="1.6" fill="none"/>
<rect x="800.4" y="6.2" width="575.6" height="636.1" fill="none" stroke="#333333" stroke-width="1.9"/>
</g>
<g id="panel-c">
<rect x="1492.4" y="4.5" width="572.3" height="633.9" fill="#13beb9"/>
<clipPath id="clip-c"><polygon points="1494.5,462.7 1494.5,449.7 1495.2,447.2 1496.6,444.8 1500.5,440.0 1505.4,436.0 1510.2,430.7 1514.1,427.3 1516.1,425.6 1521.9,423.3 1524.8,420.2 1527.7,417.5 1531.6,413.7 1536.4,409.8 1540.3,405.4 1546.2,402.8 1549.1,400.4 1553.0,397.1 1557.8,393.0 1560.7,390.1 1563.2,385.9 1568.1,381.8 1570.5,379.7 1575.8,377.8 1579.2,374.9 1581.6,371.6 1587.5,366.7 1590.4,363.9 1595.2,358.9 1601.1,356.6 1603.0,354.3 1609.3,348.9 1612.2,345.5 1616.6,341.7 1620.5,337.6 1626.3,335.3 1628.3,333.3 1633.6,328.9 1637.0,325.0 1641.9,320.7 1645.7,318.0 1648.5,314.0 1654.4,311.7 1656.3,309.6 1660.7,305.8 1665.5,301.1 1668.9,297.6 1672.8,293.5 1675.2,291.5 1681.1,289.2 1683.0,287.2 1687.4,283.0 1691.3,279.3 1695.2,275.3 1698.6,272.4 1700.5,270.2 1706.3,267.9 1708.8,265.9 1712.6,262.0 1716.5,258.3 1719.9,254.4 1725.3,249.7 1728.2,246.9 1730.0,245.4 1735.8,242.9 1737.3,240.6 1742.6,235.8 1744.5,233.1 1750.9,227.8 1754.3,224.9 1760.1,222.6 1762.0,220.7 1765.4,216.5 1768.8,214.2 1773.7,208.6 1778.5,204.5 1780.5,203.0 1785.3,201.4 1786.8,199.5 1791.2,195.7 1792.1,193.7 1797.0,189.8 1799.4,186.9 1804.8,182.4 1807.7,180.0 1810.6,177.5 1815.9,175.6 1820.8,171.5 1827.9,165.0 1830.8,161.6 1834.7,157.7 1839.6,155.7 1841.5,153.8 1845.4,150.8 1846.8,148.0 1851.2,144.2 1854.1,142.8 1855.1,140.5 1859.0,136.7 1861.9,135.4 1863.4,133.0 1865.3,131.4 1869.7,130.0 1871.6,127.3 1874.5,125.4 1875.5,123.2 1879.4,120.1 1883.3,118.3 1884.7,115.9 1890.1,110.9 1895.4,108.7 1896.9,107.0 1900.7,104.2 1901.7,102.2 1903.2,101.1 1905.4,97.9 1909.0,96.7 1910.2,94.3 1914.4,90.0 1919.7,88.2 1921.2,86.0 1926.3,82.1 1930.0,79.6 1931.3,77.1 1935.8,72.9 1938.7,71.6 1940.1,69.0 1943.9,65.2 1949.8,62.9 1951.2,60.7 1955.2,58.3 1959.1,54.2 1959.5,52.5 1963.0,50.7 1963.9,48.3 1968.2,44.7 1975.0,41.6 1977.0,39.2 1980.7,36.7 1981.8,34.6 1983.6,34.0 1986.7,34.3 1988.1,36.6 1988.1,49.6 1989.4,51.1 1992.1,51.5 1993.0,53.5 1993.0,62.8 1995.2,64.2 1996.4,66.1 1996.4,79.7 1999.6,81.0 2000.8,82.9 2001.0,91.4 2003.5,93.1 2004.4,95.2 2004.4,101.3 2004.5,105.2 2009.5,107.6 2007.1,109.5 2005.1,111.0 2003.2,112.9 1996.9,115.3 1994.9,117.3 1992.5,120.3 1989.1,122.1 1987.2,124.7 1984.8,128.0 1980.4,130.2 1979.4,132.4 1975.5,136.1 1969.2,138.8 1966.8,141.4 1963.4,144.3 1961.9,146.4 1958.5,148.3 1957.6,150.6 1954.2,153.1 1953.7,154.6 1949.3,158.1 1945.4,161.6 1944.9,162.0 1940.1,164.6 1937.2,167.3 1933.3,169.7 1931.3,172.6 1930.4,173.4 1926.1,177.2 1921.8,181.1 1919.3,183.6 1914.5,185.3 1912.5,186.9 1909.6,190.3 1904.8,193.9 1903.8,195.5 1899.4,199.7 1897.0,202.3 1893.1,206.0 1890.7,208.1 1885.4,210.2 1881.0,213.9 1879.0,216.4 1875.6,219.3 1870.8,224.0 1866.9,227.3 1865.0,229.5 1859.1,232.3 1857.2,233.9 1852.3,238.2 1848.0,242.0 1844.6,245.9 1842.8,248.4 1838.9,252.0 1836.5,254.1 1831.1,256.4 1826.3,260.2 1821.4,265.0 1817.5,269.1 1812.7,273.7 1809.8,276.5 1803.9,279.1 1798.1,284.1 1793.7,288.7 1788.4,294.9 1784.5,298.2 1781.6,300.7 1775.8,303.0 1772.9,305.5 1767.5,310.7 1764.1,314.0 1759.7,318.1 1759.1,319.8 1755.5,322.8 1751.1,324.2 1747.7,326.8 1744.8,329.3 1740.9,333.1 1737.0,337.1 1732.7,341.3 1728.3,345.8 1725.4,348.4 1720.0,350.3 1716.6,353.5 1712.8,357.2 1707.9,361.9 1704.0,365.6 1701.6,368.6 1696.2,370.5 1694.3,372.2 1690.9,375.0 1686.5,378.9 1683.6,382.3 1678.8,387.0 1674.4,390.4 1672.4,393.4 1666.6,396.1 1663.7,398.9 1659.8,403.0 1654.9,407.9 1651.0,411.3 1646.2,415.6 1643.3,418.1 1637.4,420.6 1633.6,423.9 1629.7,427.6 1624.8,432.3 1620.0,436.9 1616.1,440.6 1610.3,443.5 1608.3,445.3 1603.5,449.9 1598.6,454.6 1593.7,459.2 1589.9,462.5 1588.9,464.2 1582.1,467.6 1579.2,470.7 1575.3,475.1 1570.4,478.4 1567.5,482.2 1562.7,486.1 1556.8,488.8 1554.4,491.3 1551.0,494.9 1547.1,497.9 1543.2,501.6 1539.4,505.3 1535.0,509.8 1532.6,512.1 1526.7,514.4 1523.8,517.4 1519.5,521.3 1515.1,525.8 1511.2,529.5 1507.3,532.9 1501.5,534.1 1500.7,537.3 1497.6,539.6 1495.7,540.1 1494.5,538.5 1494.5,530.7 1494.5,462.7"/></clipPath>
<g filter="url(#soft)">
<g>
<path fill="#3e26a8" d="M1968 37h16v4h-16zM1964 41h21v4h-21zM1984 45h5v4h-5zM1935 67h3v3h-3zM1931 70h4v4h-4zM1980 116h4v5h-4zM1972 122h7v3h-7zM1968 125h9v4h-9zM1964 129h7v4h-7zM1960 133h11v5h-11zM1954 138h10v5h-10zM1950 143h10v3h-10zM1948 146h6v5h-6zM1938 153h4v2h-4zM1914 156h3v3h-3zM1931 156h3v3h-3zM1908 159h9v5h-9zM1908 164h5v4h-5zM1905 174h3v3h-3zM1897 177h7v3h-7zM1888 180h3v5h-3zM1885 185h2v4h-2zM1893 189h11v5h-11zM1881 193h3v3h-3zM1889 194h11v8h-11zM1778 196h6v6h-6zM1872 202h25v1h-25zM1872 203h24v1h-24zM1872 204h23v1h-23zM1872 205h22v1h-22zM1775 202h5v5h-5zM1871 206h22v1h-22zM1871 207h21v1h-21zM1770 206h4v3h-4zM1871 208h19v1h-19zM1871 209h16v1h-16zM1766 209h8v2h-8zM1862 210h17v4h-17zM1766 211h4v3h-4zM1851 209h3v6h-3zM1862 214h14v1h-14zM1762 215h5v1h-5zM1871 215h5v3h-5zM1845 215h17v4h-17zM1762 216h13v3h-13zM1753 219h22v3h-22zM1845 219h14v4h-14zM1749 222h26v1h-26zM1749 223h5v2h-5zM1755 224h2v1h-2zM1841 223h18v3h-18zM1749 225h8v1h-8zM1745 226h7v1h-7zM1751 227h1v1h-1zM1745 227h5v1h-5zM1825 226h9v3h-9zM1745 228h7v3h-7zM1822 229h12v2h-12zM1742 231h27v4h-27zM1822 231h15v4h-15zM1742 235h16v1h-16zM1745 236h13v2h-13zM1816 235h13v4h-13zM1745 238h8v1h-8zM1736 235h5v6h-5zM1808 239h21v4h-21zM1815 243h19v5h-19zM1720 248h4v4h-4zM1805 249h7v3h-7zM1825 248h9v6h-9zM1800 252h8v4h-8zM1717 252h6v4h-6zM1718 256h1v1h-1zM1713 256h4v1h-4zM1796 256h3v5h-3zM1821 256h5v5h-5zM1713 257h6v4h-6zM1805 261h20v1h-20zM1707 261h6v1h-6zM1707 262h5v1h-5zM1805 262h19v1h-19zM1733 261h8v3h-8zM1805 263h18v1h-18zM1707 263h4v2h-4zM1805 264h17v1h-17zM1716 261h3v5h-3zM1805 265h16v1h-16zM1699 265h12v1h-12zM1699 266h9v1h-9zM1805 266h15v2h-15zM1699 267h8v2h-8zM1805 268h13v1h-13zM1779 266h9v4h-9zM1702 269h5v1h-5zM1695 269h5v1h-5zM1805 269h12v1h-12zM1814 270h2v1h-2zM1712 266h4v6h-4zM1719 270h3v2h-3zM1695 270h7v2h-7zM1769 270h22v2h-22zM1814 271h1v1h-1zM1695 272h3v1h-3zM1690 273h7v1h-7zM1703 272h17v5h-17zM1690 274h6v4h-6zM1703 277h14v1h-14zM1696 278h21v3h-21zM1779 278h9v4h-9zM1687 278h4v4h-4zM1696 281h10v1h-10zM1682 282h4v2h-4zM1687 282h19v2h-19zM1759 282h10v3h-10zM1779 282h16v3h-16zM1682 284h24v1h-24zM1753 285h16v1h-16zM1779 285h13v1h-13zM1682 285h20v1h-20zM1753 286h9v2h-9zM1674 286h28v3h-28zM1769 286h10v3h-10zM1669 289h11v1h-11zM1669 290h6v1h-6zM1690 289h8v4h-8zM1669 291h8v3h-8zM1759 288h3v7h-3zM1766 289h3v6h-3zM1690 293h5v2h-5zM1672 294h5v1h-5zM1746 294h3v4h-3zM1753 295h6v4h-6zM1666 295h29v4h-29zM1660 299h6v1h-6zM1762 295h7v8h-7zM1673 299h13v4h-13zM1660 300h7v3h-7zM1745 303h4v5h-4zM1657 303h29v5h-29zM1658 308h28v1h-28zM1649 308h7v1h-7zM1649 309h37v2h-37zM1736 308h5v4h-5zM1649 311h27v1h-27zM1645 312h31v3h-31zM1723 312h6v3h-6zM1733 312h3v3h-3zM1645 315h25v1h-25zM1717 315h32v2h-32zM1647 316h23v1h-23zM1646 317h24v1h-24zM1645 318h25v1h-25zM1757 317h1v3h-1zM1713 317h37v3h-37zM1643 319h27v1h-27zM1636 319h5v2h-5zM1713 320h24v1h-24zM1745 320h13v1h-13zM1642 320h19v1h-19zM1745 321h12v1h-12zM1745 322h11v1h-11zM1707 321h30v3h-30zM1636 321h25v3h-25zM1745 323h8v1h-8zM1631 324h5v1h-5zM1745 324h6v1h-6zM1637 324h7v1h-7zM1707 324h17v2h-17zM1670 324h3v2h-3zM1745 325h5v1h-5zM1745 326h3v1h-3zM1733 324h4v4h-4zM1631 325h13v3h-13zM1745 327h2v1h-2zM1627 328h10v1h-10zM1741 328h5v1h-5zM1700 326h24v4h-24zM1741 329h4v1h-4zM1633 329h4v1h-4zM1627 329h4v2h-4zM1741 330h3v1h-3zM1632 330h5v1h-5zM1643 328h6v4h-6zM1695 330h29v2h-29zM1741 331h2v1h-2zM1627 331h10v1h-10zM1738 332h4v1h-4zM1620 332h17v1h-17zM1738 333h3v1h-3zM1628 333h9v1h-9zM1620 333h7v1h-7zM1738 334h2v1h-2zM1695 332h8v4h-8zM1716 332h4v4h-4zM1640 332h9v4h-9zM1620 334h17v2h-17zM1738 335h1v1h-1zM1614 336h12v1h-12zM1713 336h25v1h-25zM1653 336h4v2h-4zM1713 337h24v1h-24zM1614 337h6v1h-6zM1621 337h5v1h-5zM1713 338h23v1h-23zM1713 339h22v1h-22zM1631 336h18v5h-18zM1614 338h12v3h-12zM1713 340h21v1h-21zM1617 341h6v1h-6zM1730 341h3v1h-3zM1610 341h6v1h-6zM1677 341h5v1h-5zM1730 342h2v1h-2zM1709 341h11v3h-11zM1627 341h13v3h-13zM1610 342h13v2h-13zM1730 343h1v1h-1zM1726 344h4v1h-4zM1610 344h4v1h-4zM1673 343h4v3h-4zM1726 345h3v1h-3zM1726 346h2v1h-2zM1705 344h8v4h-8zM1637 344h6v4h-6zM1606 345h8v3h-8zM1669 346h8v2h-8zM1726 347h1v1h-1zM1703 348h22v1h-22zM1606 348h34v1h-34zM1703 349h20v1h-20zM1703 350h17v1h-17zM1703 351h16v1h-16zM1703 352h15v1h-15zM1670 348h12v6h-12zM1687 348h3v6h-3zM1603 349h37v5h-37zM1703 353h14v1h-14zM1603 354h17v1h-17zM1707 354h9v1h-9zM1594 354h8v1h-8zM1637 354h3v1h-3zM1707 355h8v1h-8zM1707 356h7v1h-7zM1665 354h25v4h-25zM1594 355h26v3h-26zM1707 357h6v1h-6zM1590 358h5v1h-5zM1631 358h5v1h-5zM1665 358h22v1h-22zM1699 358h13v1h-13zM1596 358h7v1h-7zM1699 359h12v1h-12zM1631 359h4v2h-4zM1699 360h10v1h-10zM1607 358h12v4h-12zM1660 359h27v3h-27zM1590 359h13v3h-13zM1699 361h9v1h-9zM1660 362h10v1h-10zM1699 362h4v3h-4zM1586 362h9v3h-9zM1608 362h3v3h-3zM1656 363h14v2h-14zM1687 365h17v2h-17zM1627 365h4v2h-4zM1656 365h10v2h-10zM1687 367h16v1h-16zM1687 368h15v1h-15zM1581 365h16v5h-16zM1687 369h12v1h-12zM1670 365h7v6h-7zM1653 367h13v4h-13zM1687 370h10v1h-10zM1583 370h14v1h-14zM1576 370h6v1h-6zM1693 371h2v1h-2zM1653 371h8v2h-8zM1693 372h1v1h-1zM1683 371h7v4h-7zM1576 371h47v4h-47zM1666 371h7v4h-7zM1649 373h12v2h-12zM1578 375h4v1h-4zM1683 375h8v1h-8zM1568 375h9v1h-9zM1649 375h20v2h-20zM1603 375h20v2h-20zM1683 376h6v1h-6zM1683 377h5v1h-5zM1590 375h4v4h-4zM1568 376h14v3h-14zM1644 377h25v2h-25zM1603 377h11v2h-11zM1683 378h4v1h-4zM1564 379h5v1h-5zM1677 379h9v1h-9zM1571 379h3v1h-3zM1607 379h7v2h-7zM1644 379h13v2h-13zM1677 380h8v2h-8zM1582 379h8v4h-8zM1564 380h10v3h-10zM1636 381h21v2h-21zM1677 382h7v1h-7zM1666 383h17v1h-17zM1607 381h16v4h-16zM1666 384h16v1h-16zM1666 385h14v1h-14zM1657 383h4v4h-4zM1560 383h14v4h-14zM1636 383h13v4h-13zM1607 385h23v2h-23zM1666 386h13v1h-13zM1653 387h25v1h-25zM1562 387h7v1h-7zM1653 388h24v1h-24zM1561 388h8v2h-8zM1653 389h23v1h-23zM1614 387h15v4h-15zM1587 387h7v4h-7zM1653 390h21v1h-21zM1560 390h9v1h-9zM1559 391h3v1h-3zM1644 391h30v1h-30zM1558 392h4v1h-4zM1644 392h29v1h-29zM1552 391h4v3h-4zM1644 393h28v1h-28zM1557 393h5v1h-5zM1552 394h10v1h-10zM1644 394h26v1h-26zM1548 395h14v1h-14zM1644 395h24v1h-24zM1548 396h4v1h-4zM1554 396h3v1h-3zM1660 396h6v1h-6zM1660 397h5v1h-5zM1615 395h4v4h-4zM1660 398h4v1h-4zM1623 395h3v5h-3zM1548 397h9v3h-9zM1594 399h3v1h-3zM1660 399h3v1h-3zM1653 400h9v1h-9zM1549 400h2v1h-2zM1540 401h7v1h-7zM1653 401h8v1h-8zM1548 401h3v1h-3zM1611 400h3v3h-3zM1619 400h3v3h-3zM1653 402h7v1h-7zM1631 400h9v4h-9zM1540 402h11v2h-11zM1653 403h6v1h-6zM1653 404h5v1h-5zM1653 405h4v1h-4zM1589 404h1v3h-1zM1561 404h12v3h-12zM1653 406h3v1h-3zM1534 404h13v4h-13zM1653 407h2v1h-2zM1623 404h7v5h-7zM1552 404h4v5h-4zM1561 407h6v2h-6zM1530 408h17v1h-17zM1653 408h1v1h-1zM1537 409h7v1h-7zM1646 409h7v1h-7zM1530 409h5v1h-5zM1590 409h13v2h-13zM1646 410h6v1h-6zM1530 410h14v2h-14zM1646 411h5v1h-5zM1615 409h8v4h-8zM1558 409h9v4h-9zM1547 409h4v4h-4zM1646 412h4v1h-4zM1641 413h8v1h-8zM1641 414h7v1h-7zM1589 411h14v5h-14zM1527 412h17v4h-17zM1561 413h6v3h-6zM1641 415h5v1h-5zM1631 413h5v4h-5zM1624 413h3v4h-3zM1641 416h4v1h-4zM1580 416h23v1h-23zM1528 416h16v1h-16zM1561 416h2v1h-2zM1621 417h23v1h-23zM1527 417h5v1h-5zM1522 417h4v1h-4zM1621 418h22v1h-22zM1580 417h26v3h-26zM1621 419h19v1h-19zM1547 417h4v4h-4zM1540 417h4v4h-4zM1522 418h10v3h-10zM1576 420h30v1h-30zM1621 420h17v1h-17zM1630 421h7v1h-7zM1514 421h30v1h-30zM1514 422h8v1h-8zM1523 422h21v1h-21zM1630 422h5v1h-5zM1576 421h34v3h-34zM1630 423h4v1h-4zM1514 423h30v2h-30zM1573 424h37v1h-37zM1630 424h3v1h-3zM1621 425h11v1h-11zM1621 426h10v1h-10zM1621 427h9v1h-9zM1540 425h7v4h-7zM1573 425h8v4h-8zM1607 425h3v4h-3zM1510 425h9v4h-9zM1531 425h4v4h-4zM1621 428h8v1h-8zM1615 429h13v1h-13zM1511 429h8v1h-8zM1505 429h5v1h-5zM1615 430h12v1h-12zM1615 431h11v1h-11zM1505 430h14v3h-14zM1615 432h10v1h-10zM1531 429h13v5h-13zM1591 429h3v5h-3zM1567 429h10v5h-10zM1508 433h11v1h-11zM1615 433h9v1h-9zM1598 434h25v1h-25zM1598 435h24v1h-24zM1567 434h14v3h-14zM1540 434h8v3h-8zM1598 436h22v1h-22zM1587 434h3v4h-3zM1501 434h5v4h-5zM1522 434h9v4h-9zM1565 437h16v1h-16zM1598 437h21v1h-21zM1497 438h5v1h-5zM1594 438h24v1h-24zM1594 439h23v1h-23zM1540 437h4v4h-4zM1565 438h12v3h-12zM1594 440h22v1h-22zM1581 438h5v4h-5zM1515 438h16v4h-16zM1497 439h4v3h-4zM1540 441h7v1h-7zM1563 441h14v1h-14zM1594 441h21v1h-21zM1594 442h19v1h-19zM1494 442h4v2h-4zM1594 443h17v1h-17zM1594 444h16v1h-16zM1494 444h3v1h-3zM1535 442h12v4h-12zM1563 442h10v4h-10zM1594 445h14v1h-14zM1501 442h13v5h-13zM1522 442h9v5h-9zM1594 446h13v1h-13zM1535 446h38v1h-38zM1594 447h12v1h-12zM1594 448h11v1h-11zM1594 449h10v1h-10zM1530 447h5v4h-5zM1573 447h4v4h-4zM1540 447h21v4h-21zM1594 450h9v1h-9zM1586 451h16v1h-16zM1586 452h15v1h-15zM1586 453h14v1h-14zM1544 451h17v4h-17zM1530 451h10v4h-10zM1577 451h4v4h-4zM1586 454h13v1h-13zM1594 455h4v1h-4zM1594 456h3v1h-3zM1594 457h2v1h-2zM1581 455h5v4h-5zM1501 455h13v4h-13zM1531 455h17v4h-17zM1556 455h17v4h-17zM1551 459h42v1h-42zM1551 460h41v1h-41zM1551 461h40v1h-40zM1551 462h39v1h-39zM1505 459h9v5h-9zM1518 459h17v5h-17zM1551 463h38v1h-38zM1557 464h31v1h-31zM1557 465h29v1h-29zM1557 466h28v1h-28zM1522 464h18v4h-18zM1557 467h26v1h-26zM1565 468h16v1h-16zM1565 469h15v1h-15zM1494 464h20v8h-20zM1518 468h9v4h-9zM1551 468h9v4h-9zM1565 470h14v2h-14zM1540 472h38v1h-38zM1540 473h37v1h-37zM1540 474h36v1h-36zM1494 472h11v4h-11zM1540 475h35v1h-35zM1561 476h12v1h-12zM1561 477h11v1h-11zM1561 478h10v1h-10zM1561 479h9v1h-9zM1544 476h7v5h-7zM1561 480h8v1h-8zM1557 481h11v1h-11zM1557 482h10v1h-10zM1557 483h9v1h-9zM1541 481h6v4h-6zM1557 484h8v1h-8zM1557 485h7v1h-7zM1557 486h5v1h-5zM1557 487h3v1h-3zM1494 476h2v13h-2zM1522 485h22v4h-22zM1557 488h1v1h-1zM1555 489h1v1h-1zM1527 489h24v3h-24zM1534 492h19v2h-19zM1534 494h18v1h-18zM1534 495h16v1h-16zM1494 489h7v8h-7zM1534 496h15v1h-15zM1514 497h34v1h-34zM1514 498h33v1h-33zM1514 499h32v1h-32zM1494 497h11v4h-11zM1514 500h30v1h-30zM1505 501h38v1h-38zM1505 502h37v1h-37zM1505 503h36v1h-36zM1494 501h7v4h-7zM1505 504h35v1h-35zM1494 505h2v5h-2zM1505 505h17v5h-17zM1494 510h40v1h-40zM1494 511h39v1h-39zM1494 512h38v1h-38zM1494 513h35v1h-35zM1501 514h26v1h-26zM1501 515h25v1h-25zM1501 516h24v1h-24zM1501 517h23v1h-23zM1521 518h2v1h-2zM1521 519h1v1h-1zM1517 522h1v1h-1zM1501 522h13v4h-13zM1511 526h4v1h-4zM1511 527h2v1h-2zM1511 528h1v1h-1zM1501 530h9v1h-9zM1501 531h8v1h-8zM1501 532h7v1h-7zM1501 533h4v1h-4z"/>
<path fill="#f9fb15" d="M1989 93h11v4h-11zM1980 97h13v3h-13zM1981 100h12v5h-12zM1977 105h12v4h-12zM1967 117h4v5h-4zM1875 130h6v3h-6zM1913 134h4v6h-4zM1908 140h9v3h-9zM1934 143h3v4h-3zM1930 147h17v6h-17zM1942 153h9v3h-9zM1934 156h16v2h-16zM1934 158h15v1h-15zM1934 159h14v1h-14zM1917 160h29v2h-29zM1917 162h27v1h-27zM1871 160h13v4h-13zM1917 163h25v1h-25zM1913 164h27v1h-27zM1913 165h26v1h-26zM1913 166h25v1h-25zM1905 164h3v4h-3zM1913 167h24v1h-24zM1897 168h36v3h-36zM1875 164h9v8h-9zM1897 171h35v1h-35zM1893 172h35v2h-35zM1876 172h9v2h-9zM1908 174h20v2h-20zM1883 174h22v3h-22zM1908 176h19v1h-19zM1904 177h22v1h-22zM1904 178h21v1h-21zM1884 177h13v3h-13zM1838 177h7v3h-7zM1904 179h20v1h-20zM1891 180h30v3h-30zM1891 183h29v1h-29zM1885 180h3v5h-3zM1891 184h26v1h-26zM1881 185h4v4h-4zM1887 185h24v4h-24zM1875 189h17v3h-17zM1871 192h10v4h-10zM1881 196h6v6h-6zM1867 196h4v6h-4zM1861 202h10v4h-10zM1855 206h16v4h-16zM1787 206h12v4h-12zM1855 210h7v5h-7zM1783 210h12v5h-12zM1788 215h11v4h-11zM1862 215h9v4h-9zM1841 215h4v4h-4zM1859 219h12v4h-12zM1795 219h13v4h-13zM1837 219h8v4h-8zM1758 223h17v1h-17zM1799 223h6v3h-6zM1834 223h7v3h-7zM1757 224h18v2h-18zM1862 226h4v3h-4zM1862 229h3v1h-3zM1834 226h25v5h-25zM1752 226h23v5h-23zM1862 230h1v1h-1zM1837 231h20v4h-20zM1808 231h4v4h-4zM1829 235h25v2h-25zM1829 237h24v1h-24zM1769 231h22v8h-22zM1829 238h23v1h-23zM1742 239h11v4h-11zM1762 239h7v4h-7zM1829 239h19v4h-19zM1787 239h4v4h-4zM1805 243h10v5h-10zM1737 243h28v5h-28zM1835 243h8v5h-8zM1788 248h37v1h-37zM1730 248h32v4h-32zM1788 249h17v3h-17zM1812 249h13v3h-13zM1808 252h17v4h-17zM1723 252h22v4h-22zM1775 252h25v4h-25zM1799 256h22v5h-22zM1719 256h22v5h-22zM1775 256h21v5h-21zM1713 261h3v1h-3zM1712 262h4v1h-4zM1719 261h14v5h-14zM1762 261h43v5h-43zM1711 263h5v3h-5zM1708 266h4v1h-4zM1716 266h7v4h-7zM1788 266h17v4h-17zM1753 266h26v4h-26zM1707 267h5v3h-5zM1753 270h16v2h-16zM1702 270h10v2h-10zM1791 270h23v2h-23zM1716 270h3v2h-3zM1698 272h5v1h-5zM1697 273h6v1h-6zM1749 272h59v6h-59zM1729 272h7v6h-7zM1696 274h7v4h-7zM1692 278h4v1h-4zM1788 278h12v4h-12zM1753 278h26v4h-26zM1691 279h5v3h-5zM1769 282h10v4h-10zM1762 286h7v3h-7zM1779 286h13v3h-13zM1680 289h10v1h-10zM1762 289h4v6h-4zM1769 289h18v6h-18zM1749 289h10v6h-10zM1677 290h13v5h-13zM1769 295h14v4h-14zM1749 295h4v4h-4zM1759 295h3v4h-3zM1769 299h10v3h-10zM1667 299h6v4h-6zM1736 299h26v4h-26zM1686 299h17v4h-17zM1769 302h9v1h-9zM1733 303h12v5h-12zM1749 303h22v5h-22zM1723 308h13v4h-13zM1741 308h26v4h-26zM1736 312h13v3h-13zM1729 312h4v3h-4zM1670 315h3v5h-3zM1703 315h4v5h-4zM1750 315h7v5h-7zM1661 320h12v4h-12zM1737 320h8v8h-8zM1724 324h9v4h-9zM1644 324h26v4h-26zM1649 328h21v4h-21zM1724 328h17v4h-17zM1637 328h6v4h-6zM1703 332h13v4h-13zM1637 332h3v4h-3zM1649 332h8v4h-8zM1720 332h18v4h-18zM1677 336h36v5h-36zM1649 336h4v5h-4zM1626 336h5v5h-5zM1682 341h27v3h-27zM1720 341h10v3h-10zM1640 341h13v3h-13zM1623 341h4v3h-4zM1614 344h23v4h-23zM1713 344h13v4h-13zM1677 344h28v4h-28zM1643 344h10v4h-10zM1690 348h13v6h-13zM1682 348h5v6h-5zM1640 348h30v6h-30zM1620 354h17v4h-17zM1690 354h17v4h-17zM1603 358h4v4h-4zM1619 358h12v4h-12zM1687 358h12v4h-12zM1703 362h4v1h-4zM1703 363h3v1h-3zM1670 362h29v3h-29zM1595 362h13v3h-13zM1611 362h20v3h-20zM1703 364h2v1h-2zM1597 365h30v6h-30zM1666 365h4v6h-4zM1677 365h10v6h-10zM1690 371h3v3h-3zM1673 371h10v4h-10zM1623 371h14v4h-14zM1661 371h5v4h-5zM1690 374h2v1h-2zM1582 375h8v4h-8zM1669 375h14v4h-14zM1594 375h9v4h-9zM1590 379h17v4h-17zM1657 379h20v4h-20zM1574 379h8v4h-8zM1661 383h5v4h-5zM1574 383h33v4h-33zM1649 383h8v4h-8zM1594 387h20v4h-20zM1629 387h24v4h-24zM1569 387h18v4h-18zM1562 391h41v5h-41zM1626 391h18v5h-18zM1557 396h37v4h-37zM1626 396h34v4h-34zM1551 400h47v4h-47zM1623 400h8v4h-8zM1640 400h13v4h-13zM1590 404h33v5h-33zM1630 404h23v5h-23zM1556 404h5v5h-5zM1547 404h5v5h-5zM1551 409h7v4h-7zM1623 409h23v4h-23zM1603 409h12v4h-12zM1544 409h3v4h-3zM1544 413h17v4h-17zM1636 413h5v4h-5zM1627 413h4v4h-4zM1603 413h21v4h-21zM1551 417h14v4h-14zM1606 417h15v4h-15zM1544 417h3v4h-3zM1532 417h8v4h-8zM1544 421h17v4h-17zM1610 421h20v4h-20zM1535 425h5v4h-5zM1581 425h26v4h-26zM1610 425h11v4h-11zM1547 425h26v4h-26zM1519 425h12v9h-12zM1594 429h21v5h-21zM1577 429h14v5h-14zM1544 429h21v5h-21zM1507 434h15v1h-15zM1581 434h6v4h-6zM1590 434h8v4h-8zM1506 435h16v3h-16zM1502 438h13v1h-13zM1531 434h9v8h-9zM1577 438h4v4h-4zM1586 438h8v4h-8zM1501 439h14v3h-14zM1498 442h3v2h-3zM1497 444h4v1h-4zM1514 442h8v5h-8zM1573 442h21v5h-21zM1531 442h4v5h-4zM1496 445h5v2h-5zM1535 447h5v4h-5zM1561 447h12v4h-12zM1577 447h17v4h-17zM1496 447h34v8h-34zM1581 451h5v4h-5zM1561 451h16v4h-16zM1540 451h4v4h-4zM1548 455h8v4h-8zM1586 455h8v4h-8zM1496 455h5v4h-5zM1573 455h8v4h-8zM1514 455h17v4h-17zM1514 459h4v5h-4zM1496 459h9v5h-9zM1535 459h16v5h-16zM1514 464h8v4h-8zM1540 464h17v4h-17zM1527 468h24v4h-24zM1514 468h4v4h-4zM1560 468h5v4h-5zM1505 472h35v4h-35zM1496 476h48v5h-48zM1551 476h10v5h-10zM1547 481h10v4h-10zM1496 481h45v4h-45zM1544 485h13v4h-13zM1496 485h26v4h-26zM1551 489h4v2h-4zM1501 489h26v3h-26zM1551 491h3v1h-3zM1501 492h33v5h-33zM1505 497h9v4h-9zM1501 501h4v4h-4zM1522 505h17v1h-17zM1522 506h16v1h-16zM1522 507h15v1h-15zM1522 508h14v1h-14zM1496 505h9v5h-9zM1522 509h13v1h-13zM1496 514h5v4h-5zM1496 518h25v2h-25zM1496 520h24v1h-24zM1496 521h23v1h-23zM1514 522h3v3h-3zM1496 522h5v4h-5zM1514 525h2v1h-2zM1496 526h15v4h-15zM1496 530h5v8h-5z"/>
</g>
<polygon fill="none" stroke="#ff0000" stroke-width="3.1" stroke-linejoin="round" points="1494.5,462.7 1494.5,449.7 1495.2,447.2 1496.6,444.8 1500.5,440.0 1505.4,436.0 1510.2,430.7 1514.1,427.3 1516.1,425.6 1521.9,423.3 1524.8,420.2 1527.7,417.5 1531.6,413.7 1536.4,409.8 1540.3,405.4 1546.2,402.8 1549.1,400.4 1553.0,397.1 1557.8,393.0 1560.7,390.1 1563.2,385.9 1568.1,381.8 1570.5,379.7 1575.8,377.8 1579.2,374.9 1581.6,371.6 1587.5,366.7 1590.4,363.9 1595.2,358.9 1601.1,356.6 1603.0,354.3 1609.3,348.9 1612.2,345.5 1616.6,341.7 1620.5,337.6 1626.3,335.3 1628.3,333.3 1633.6,328.9 1637.0,325.0 1641.9,320.7 1645.7,318.0 1648.5,314.0 1654.4,311.7 1656.3,309.6 1660.7,305.8 1665.5,301.1 1668.9,297.6 1672.8,293.5 1675.2,291.5 1681.1,289.2 1683.0,287.2 1687.4,283.0 1691.3,279.3 1695.2,275.3 1698.6,272.4 1700.5,270.2 1706.3,267.9 1708.8,265.9 1712.6,262.0 1716.5,258.3 1719.9,254.4 1725.3,249.7 1728.2,246.9 1730.0,245.4 1735.8,242.9 1737.3,240.6 1742.6,235.8 1744.5,233.1 1750.9,227.8 1754.3,224.9 1760.1,222.6 1762.0,220.7 1765.4,216.5 1768.8,214.2 1773.7,208.6 1778.5,204.5 1780.5,203.0 1785.3,201.4 1786.8,199.5 1791.2,195.7 1792.1,193.7 1797.0,189.8 1799.4,186.9 1804.8,182.4 1807.7,180.0 1810.6,177.5 1815.9,175.6 1820.8,171.5 1827.9,165.0 1830.8,161.6 1834.7,157.7 1839.6,155.7 1841.5,153.8 1845.4,150.8 1846.8,148.0 1851.2,144.2 1854.1,142.8 1855.1,140.5 1859.0,136.7 1861.9,135.4 1863.4,133.0 1865.3,131.4 1869.7,130.0 1871.6,127.3 1874.5,125.4 1875.5,123.2 1879.4,120.1 1883.3,118.3 1884.7,115.9 1890.1,110.9 1895.4,108.7 1896.9,107.0 1900.7,104.2 1901.7,102.2 1903.2,101.1 1905.4,97.9 1909.0,96.7 1910.2,94.3 1914.4,90.0 1919.7,88.2 1921.2,86.0 1926.3,82.1 1930.0,79.6 1931.3,77.1 1935.8,72.9 1938.7,71.6 1940.1,69.0 1943.9,65.2 1949.8,62.9 1951.2,60.7 1955.2,58.3 1959.1,54.2 1959.5,52.5 1963.0,50.7 1963.9,48.3 1968.2,44.7 1975.0,41.6 1977.0,39.2 1980.7,36.7 1981.8,34.6 1983.6,34.0 1986.7,34.3 1988.1,36.6 1988.1,49.6 1989.4,51.1 1992.1,51.5 1993.0,53.5 1993.0,62.8 1995.2,64.2 1996.4,66.1 1996.4,79.7 1999.6,81.0 2000.8,82.9 2001.0,91.4 2003.5,93.1 2004.4,95.2 2004.4,101.3 2004.5,105.2 2009.5,107.6 2007.1,109.5 2005.1,111.0 2003.2,112.9 1996.9,115.3 1994.9,117.3 1992.5,120.3 1989.1,122.1 1987.2,124.7 1984.8,128.0 1980.4,130.2 1979.4,132.4 1975.5,136.1 1969.2,138.8 1966.8,141.4 1963.4,144.3 1961.9,146.4 1958.5,148.3 1957.6,150.6 1954.2,153.1 1953.7,154.6 1949.3,158.1 1945.4,161.6 1944.9,162.0 1940.1,164.6 1937.2,167.3 1933.3,169.7 1931.3,172.6 1930.4,173.4 1926.1,177.2 1921.8,181.1 1919.3,183.6 1914.5,185.3 1912.5,186.9 1909.6,190.3 1904.8,193.9 1903.8,195.5 1899.4,199.7 1897.0,202.3 1893.1,206.0 1890.7,208.1 1885.4,210.2 1881.0,213.9 1879.0,216.4 1875.6,219.3 1870.8,224.0 1866.9,227.3 1865.0,229.5 1859.1,232.3 1857.2,233.9 1852.3,238.2 1848.0,242.0 1844.6,245.9 1842.8,248.4 1838.9,252.0 1836.5,254.1 1831.1,256.4 1826.3,260.2 1821.4,265.0 1817.5,269.1 1812.7,273.7 1809.8,276.5 1803.9,279.1 1798.1,284.1 1793.7,288.7 1788.4,294.9 1784.5,298.2 1781.6,300.7 1775.8,303.0 1772.9,305.5 1767.5,310.7 1764.1,314.0 1759.7,318.1 1759.1,319.8 1755.5,322.8 1751.1,324.2 1747.7,326.8 1744.8,329.3 1740.9,333.1 1737.0,337.1 1732.7,341.3 1728.3,345.8 1725.4,348.4 1720.0,350.3 1716.6,353.5 1712.8,357.2 1707.9,361.9 1704.0,365.6 1701.6,368.6 1696.2,370.5 1694.3,372.2 1690.9,375.0 1686.5,378.9 1683.6,382.3 1678.8,387.0 1674.4,390.4 1672.4,393.4 1666.6,396.1 1663.7,398.9 1659.8,403.0 1654.9,407.9 1651.0,411.3 1646.2,415.6 1643.3,418.1 1637.4,420.6 1633.6,423.9 1629.7,427.6 1624.8,432.3 1620.0,436.9 1616.1,440.6 1610.3,443.5 1608.3,445.3 1603.5,449.9 1598.6,454.6 1593.7,459.2 1589.9,462.5 1588.9,464.2 1582.1,467.6 1579.2,470.7 1575.3,475.1 1570.4,478.4 1567.5,482.2 1562.7,486.1 1556.8,488.8 1554.4,491.3 1551.0,494.9 1547.1,497.9 1543.2,501.6 1539.4,505.3 1535.0,509.8 1532.6,512.1 1526.7,514.4 1523.8,517.4 1519.5,521.3 1515.1,525.8 1511.2,529.5 1507.3,532.9 1501.5,534.1 1500.7,537.3 1497.6,539.6 1495.7,540.1 1494.5,538.5 1494.5,530.7 1494.5,462.7"/>
</g>
<path d="M1549.6 638.4v-6M1549.6 4.5v6M1682.9 638.4v-6M1682.9 4.5v6M1818.4 638.4v-6M1818.4 4.5v6M1957.1 638.4v-6M1957.1 4.5v6M1492.4 132.0h6M2064.7 132.0h-6M1492.4 271.0h6M2064.7 271.0h-6M1492.4 404.8h6M2064.7 404.8h-6M1492.4 540.0h6M2064.7 540.0h-6" stroke="#333333" stroke-width="1.6" fill="none"/>
<rect x="1492.4" y="4.5" width="572.3" height="633.9" fill="none" stroke="#333333" stroke-width="1.9"/>
</g>
<text class="tk" transform="translate(141.59 673.79) scale(0.963 1)" style="font-size:46.7px">-10</text>
<text class="tk" transform="translate(288.46 673.79) scale(0.963 1)" style="font-size:46.7px">0</text>
<text class="tk" transform="translate(413.59 673.79) scale(0.963 1)" style="font-size:46.7px">10</text>
<text class="tk" transform="translate(552.95 673.79) scale(0.963 1)" style="font-size:46.7px">20</text>
<text class="tk" transform="translate(53.71 147.34) scale(0.963 1)" style="font-size:46.7px">50</text>
<text class="tk" transform="translate(53.71 287.64) scale(0.963 1)" style="font-size:46.7px">60</text>
<text class="tk" transform="translate(53.71 419.84) scale(0.963 1)" style="font-size:46.7px">70</text>
<text class="tk" transform="translate(53.71 556.89) scale(0.963 1)" style="font-size:46.7px">80</text>
<text class="ax" transform="translate(286.16 726.30) scale(0.98 1)" style="font-size:45.6px">Width [mm]</text>
<text class="tk" transform="translate(836.99 678.94) scale(0.963 1)" style="font-size:46.7px">-10</text>
<text class="tk" transform="translate(983.16 678.94) scale(0.963 1)" style="font-size:46.7px">0</text>
<text class="tk" transform="translate(1108.14 678.94) scale(0.963 1)" style="font-size:46.7px">10</text>
<text class="tk" transform="translate(1247.75 678.94) scale(0.963 1)" style="font-size:46.7px">20</text>
<text class="tk" transform="translate(748.81 152.24) scale(0.963 1)" style="font-size:46.7px">50</text>
<text class="tk" transform="translate(748.81 292.99) scale(0.963 1)" style="font-size:46.7px">60</text>
<text class="tk" transform="translate(748.81 424.99) scale(0.963 1)" style="font-size:46.7px">70</text>
<text class="tk" transform="translate(748.81 562.09) scale(0.963 1)" style="font-size:46.7px">80</text>
<text class="ax" transform="translate(980.96 731.10) scale(0.98 1)" style="font-size:45.6px">Width [mm]</text>
<text class="tk" transform="translate(1526.44 678.24) scale(0.963 1)" style="font-size:46.7px">-10</text>
<text class="tk" transform="translate(1672.81 678.24) scale(0.963 1)" style="font-size:46.7px">0</text>
<text class="tk" transform="translate(1797.79 678.24) scale(0.963 1)" style="font-size:46.7px">10</text>
<text class="tk" transform="translate(1937.70 678.24) scale(0.963 1)" style="font-size:46.7px">20</text>
<text class="tk" transform="translate(1438.41 151.69) scale(0.963 1)" style="font-size:46.7px">50</text>
<text class="tk" transform="translate(1438.41 292.09) scale(0.963 1)" style="font-size:46.7px">60</text>
<text class="tk" transform="translate(1438.41 424.59) scale(0.963 1)" style="font-size:46.7px">70</text>
<text class="tk" transform="translate(1438.41 561.34) scale(0.963 1)" style="font-size:46.7px">80</text>
<text class="ax" transform="translate(1670.86 730.50) scale(0.98 1)" style="font-size:45.6px">Width [mm]</text>
<text class="ax" transform="translate(34.5 356) rotate(-90) scale(0.98 1)" text-anchor="middle" style="font-size:45.6px">Depth [mm]</text>
<text class="wt" transform="translate(137.54 64.50) scale(1 1)" style="font-size:45.6px">(a)</text>
<text class="wt" transform="translate(824.29 64.40) scale(1 1)" style="font-size:45.6px">(b)</text>
<text class="wt" transform="translate(1517.84 68.40) scale(1 1)" style="font-size:45.6px">(c)</text>
<rect x="266.3" y="575" width="76.6" height="33" fill="#3e26a8"/>
<rect x="342.9" y="575" width="76.7" height="33" fill="#3080ff"/>
<rect x="419.6" y="575" width="76.7" height="33" fill="#13beb9"/>
<rect x="496.3" y="575" width="75.9" height="33" fill="#c9c128"/>
<rect x="572.2" y="575" width="78.9" height="33" fill="#f9fb15"/>
<path d="M314.4 607.5v-2.6M362.3 607.5v-2.6M410.2 607.5v-2.6M458.1 607.5v-2.6M506.0 607.5v-2.6M553.9 607.5v-2.6M601.8 607.5v-2.6" stroke="#222" stroke-width="1" fill="none"/>
<rect x="267.3" y="575.3" width="382.8" height="32.4" fill="none" stroke="#000" stroke-width="2"/>
<text class="wt" transform="translate(281.92 567.12) scale(0.963 1)" style="font-size:46.7px">-2</text>
<text class="wt" transform="translate(357.99 567.06) scale(0.963 1)" style="font-size:46.7px">-1</text>
<text class="wt" transform="translate(445.66 566.94) scale(0.963 1)" style="font-size:46.7px">0</text>
<text class="wt" transform="translate(523.14 567.06) scale(0.963 1)" style="font-size:46.7px">1</text>
<text class="wt" transform="translate(599.34 567.12) scale(0.963 1)" style="font-size:46.7px">2</text>
<text class="wt" transform="translate(143.68 591.00) scale(0.78 1)" style="font-size:47px" font-style="italic" stroke="#fff" stroke-width="0.7">C</text>
<text class="wt" transform="translate(167.92 599.60) scale(1.16 1)" style="font-size:34px" font-style="italic" stroke="#fff" stroke-width="0.6">alias</text>
<g filter="url(#sh)"><rect x="942.7" y="504.1" width="405.2" height="105.5" fill="url(#lgd)"/></g>
<rect x="953.3" y="540.9" width="57.2" height="35.3" fill="#f9fb15"/>
<text class="lg" transform="translate(1024.02 574.50) scale(0.98 1)" style="font-size:45.6px">Uncertain region</text>
<g filter="url(#sh)"><rect x="1642.7" y="433.5" width="404.5" height="181.2" fill="url(#lgd)"/></g>
<rect x="1653.1" y="470.2" width="57.3" height="35" fill="#f9fb15"/>
<rect x="1653.1" y="543.6" width="57.3" height="35.3" fill="#3e26a8"/>
<text class="lg" transform="translate(1723.97 503.80) scale(0.98 1)" style="font-size:45.6px">Uncertain region</text>
<text class="lg" transform="translate(1723.58 573.80) scale(0.98 1)" style="font-size:45.6px">High error</text>
</svg>
</body></html>
